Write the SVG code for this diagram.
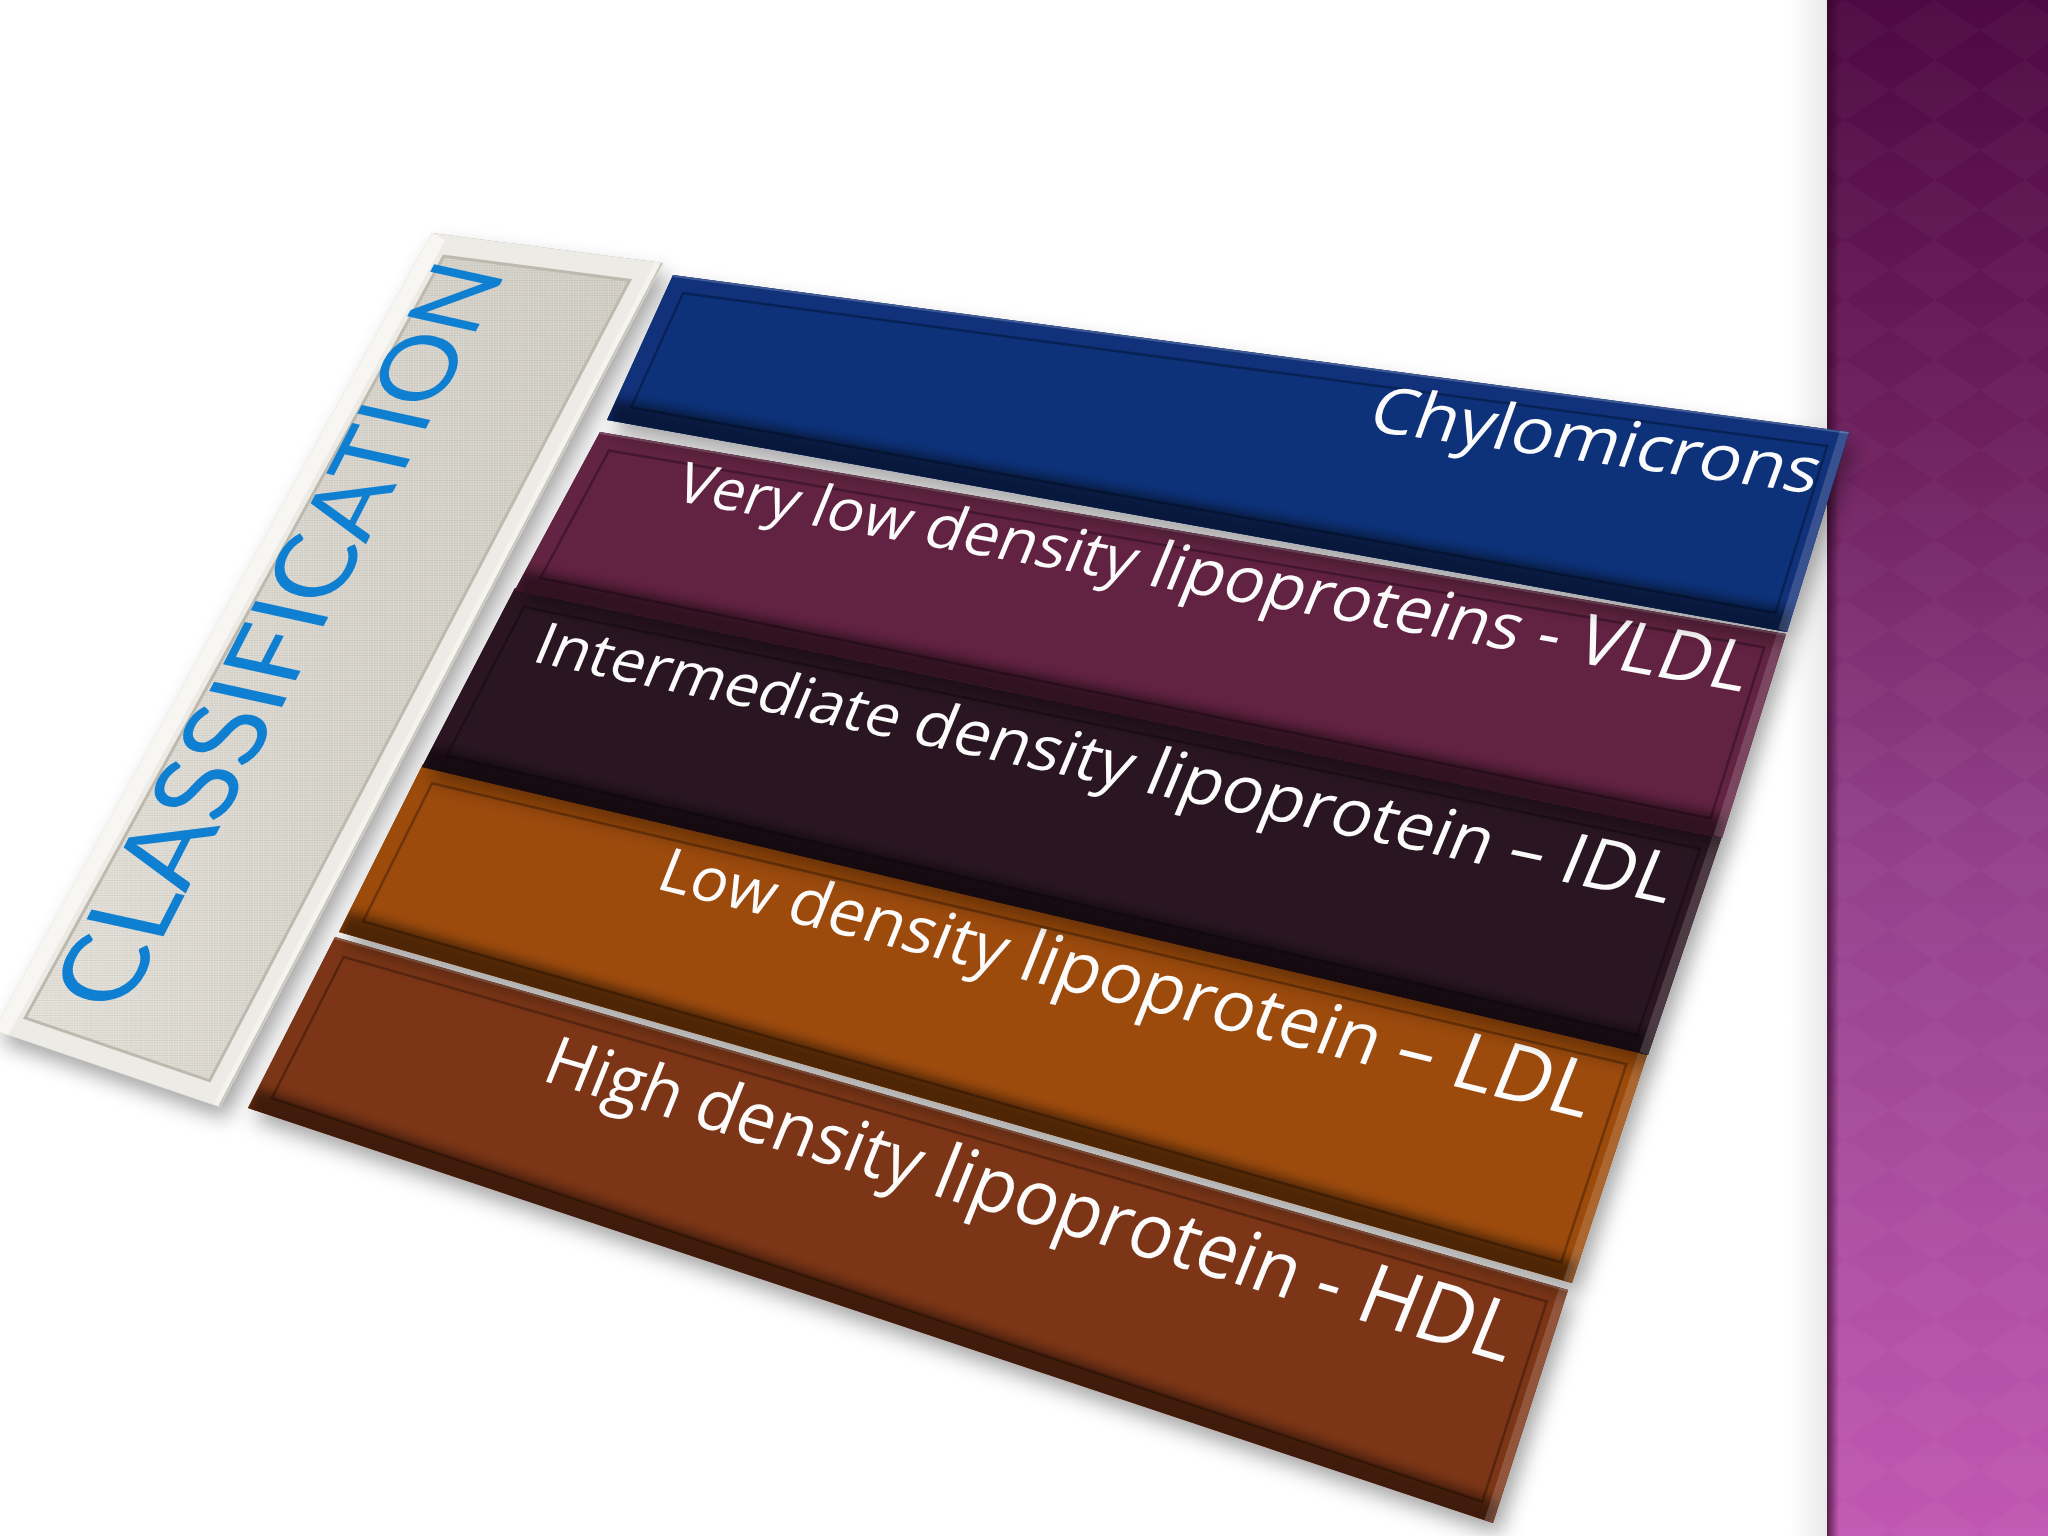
<svg xmlns="http://www.w3.org/2000/svg" xmlns:xlink="http://www.w3.org/1999/xlink" width="2048" height="1536" viewBox="0 0 2048 1536">
<style>
.lbl{fill:#fbfbfb;font-family:"Open Sans","Noto Sans","DejaVu Sans",sans-serif;font-weight:400}
.cls{fill:#0f7fd2;font-family:Lato,"Open Sans",sans-serif;font-weight:400}
.line{fill:none;stroke:#000;stroke-opacity:.3;stroke-width:36;stroke-linejoin:round}
.bot{stroke:#000;stroke-opacity:.5;stroke-width:44;filter:url(#bl)}
.rim{stroke:#fff;stroke-opacity:.16;stroke-width:18}
.top{stroke:#fff;stroke-opacity:.2;stroke-width:4}
</style>
<defs>
<linearGradient id="purple" x1="0" y1="0" x2="0" y2="1">
<stop offset="0" stop-color="#4e0843"/>
<stop offset="0.3" stop-color="#6f215f"/>
<stop offset="0.55" stop-color="#92408a"/>
<stop offset="0.8" stop-color="#ad4ea2"/>
<stop offset="1" stop-color="#c057b1"/>
</linearGradient>
<linearGradient id="edgeL" x1="0" y1="0" x2="1" y2="0">
<stop offset="0" stop-color="#2a0522" stop-opacity=".7"/>
<stop offset="1" stop-color="#2a0522" stop-opacity="0"/>
</linearGradient>
<linearGradient id="whiteEdge" x1="0" y1="0" x2="1" y2="0">
<stop offset="0" stop-color="#ffffff"/>
<stop offset="1" stop-color="#e9e9e9"/>
</linearGradient>
<linearGradient id="grayFace" x1="0" y1="0" x2="1" y2="0">
<stop offset="0" stop-color="#e6e3dc"/>
<stop offset="0.5" stop-color="#d7d4cc"/>
<stop offset="1" stop-color="#d0cdc4"/>
</linearGradient>
<pattern id="linen" width="5" height="5" patternUnits="userSpaceOnUse">
<path d="M0 0.5H5M0 3H5" stroke="#8f8a80" stroke-width="0.7" stroke-opacity="0.25"/>
<path d="M1 0V5M3.5 0V5" stroke="#ffffff" stroke-width="0.7" stroke-opacity="0.25"/>
</pattern>
<pattern id="diam" width="90" height="60" patternUnits="userSpaceOnUse">
<path d="M45 0L90 30L45 60L0 30Z" fill="#ffffff" fill-opacity="0.022"/>
</pattern>
<filter id="sh" x="-20%" y="-20%" width="150%" height="160%">
<feDropShadow dx="6" dy="12" stdDeviation="10" flood-color="#000" flood-opacity="0.35"/>
</filter>
<filter id="bl" x="-20%" y="-50%" width="140%" height="200%">
<feGaussianBlur stdDeviation="6"/>
</filter>
<polygon id="qG" points="432,233 663,263 220,1107 -6,1030"/>
<polygon id="q1" points="673,275 1849,432 1787,632 607,420"/>
<polygon id="q2" points="600,432 1786,634 1722,838 515,590"/>
<polygon id="q3" points="515,588 1722,836 1648,1055 422,767"/>
<polygon id="q4" points="423,764 1648,1052 1572,1283 339,932"/>
<polygon id="q5" points="335,937 1568,1290 1493,1523 248,1108"/>
<clipPath id="cG"><use xlink:href="#qG"/></clipPath>
<clipPath id="c1"><use xlink:href="#q1"/></clipPath>
<clipPath id="c2"><use xlink:href="#q2"/></clipPath>
<clipPath id="c3"><use xlink:href="#q3"/></clipPath>
<clipPath id="c4"><use xlink:href="#q4"/></clipPath>
<clipPath id="c5"><use xlink:href="#q5"/></clipPath>
</defs>

<g id="background">
<rect x="0" y="0" width="2048" height="1536" fill="#ffffff"/>
<rect x="1790" y="0" width="37" height="1536" fill="url(#whiteEdge)"/>
<rect x="1827" y="0" width="221" height="1536" fill="url(#purple)"/>
<rect x="1827" y="0" width="221" height="1536" fill="url(#diam)"/>
<rect x="1827" y="0" width="12" height="1536" fill="url(#edgeL)"/>
</g>

<g id="classification-panel">
<use xlink:href="#qG" fill="url(#grayFace)" filter="url(#sh)"/>
<g clip-path="url(#cG)">
<use xlink:href="#qG" fill="url(#linen)"/>
<use xlink:href="#qG" fill="none" stroke="#bdb9af" stroke-width="46"/>
<use xlink:href="#qG" fill="none" stroke="#ecebe5" stroke-width="40"/>
<line x1="432" y1="233" x2="-6" y2="1030" stroke="#f7f6f2" stroke-width="30"/>
<line x1="663" y1="263" x2="220" y2="1107" stroke="#f4f3ee" stroke-width="14"/>
<line x1="663" y1="263" x2="220" y2="1107" stroke="#c9c5bc" stroke-width="4"/>
</g>
<text class="cls" transform="matrix(0.4587 -0.8886 0.976 0.216 124 1013)" textLength="835" lengthAdjust="spacingAndGlyphs"><tspan font-size="110">CLASS</tspan><tspan font-size="104">IFIC</tspan><tspan font-size="98">ATION</tspan></text>
</g>

<g id="bar-hdl">
<use xlink:href="#q5" fill="#7c3617" filter="url(#sh)"/>
<g clip-path="url(#c5)">
<use xlink:href="#q5" class="line"/>
<use xlink:href="#q5" fill="none" stroke="#7c3617" stroke-width="31"/>
<line x1="248" y1="1108" x2="1493" y2="1523" class="bot"/>
<line x1="1568" y1="1290" x2="1493" y2="1523" class="rim"/>
<line x1="335" y1="937" x2="1568" y2="1290" class="top"/>
</g>
<text class="lbl" transform="matrix(0.9597 0.2811 -0.3717 0.9284 540 1080)" textLength="1005" lengthAdjust="spacingAndGlyphs"><tspan font-size="68">High </tspan><tspan font-size="72">density </tspan><tspan font-size="77">lipoprotein </tspan><tspan font-size="82">- </tspan><tspan font-size="84">HDL</tspan></text>
</g>

<g id="bar-ldl">
<use xlink:href="#q4" fill="#9d4b0a" filter="url(#sh)"/>
<g clip-path="url(#c4)">
<use xlink:href="#q4" class="line"/>
<use xlink:href="#q4" fill="none" stroke="#9d4b0a" stroke-width="31"/>
<line x1="339" y1="932" x2="1572" y2="1283" class="bot"/>
<line x1="1648" y1="1052" x2="1572" y2="1283" class="rim"/>
<line x1="423" y1="764" x2="1648" y2="1052" class="top"/>
</g>
<text class="lbl" transform="matrix(0.9707 0.2406 -0.3708 0.9287 654 888)" textLength="957" lengthAdjust="spacingAndGlyphs"><tspan font-size="62">Low </tspan><tspan font-size="66">density </tspan><tspan font-size="72">lipoprotein </tspan><tspan font-size="77">– </tspan><tspan font-size="80">LDL</tspan></text>
</g>

<g id="bar-idl">
<use xlink:href="#q3" fill="#2b1520" filter="url(#sh)"/>
<g clip-path="url(#c3)">
<use xlink:href="#q3" class="line"/>
<use xlink:href="#q3" fill="none" stroke="#2b1520" stroke-width="31"/>
<line x1="422" y1="767" x2="1648" y2="1055" class="bot"/>
<line x1="1722" y1="836" x2="1648" y2="1055" class="rim"/>
</g>
<text class="lbl" transform="matrix(0.9779 0.2089 -0.3833 0.9236 530 661)" textLength="1161" lengthAdjust="spacingAndGlyphs"><tspan font-size="60">Intermediate </tspan><tspan font-size="64">density </tspan><tspan font-size="67">lipoprotein </tspan><tspan font-size="70">– </tspan><tspan font-size="72">IDL</tspan></text>
</g>

<g id="bar-vldl">
<use xlink:href="#q2" fill="#622442" filter="url(#sh)"/>
<g clip-path="url(#c2)">
<use xlink:href="#q2" class="line"/>
<use xlink:href="#q2" fill="none" stroke="#622442" stroke-width="31"/>
<line x1="515" y1="590" x2="1722" y2="838" class="bot"/>
<line x1="1786" y1="634" x2="1722" y2="838" class="rim"/>
<line x1="600" y1="432" x2="1786" y2="634" class="top"/>
</g>
<text class="lbl" transform="matrix(0.9843 0.1765 -0.3789 0.9254 672 500)" textLength="1086" lengthAdjust="spacingAndGlyphs"><tspan font-size="58">Very </tspan><tspan font-size="60">low </tspan><tspan font-size="62">density </tspan><tspan font-size="66">lipoproteins </tspan><tspan font-size="69">- </tspan><tspan font-size="72">VLDL</tspan></text>
</g>

<g id="bar-chylomicrons">
<use xlink:href="#q1" fill="#11317a" filter="url(#sh)"/>
<g clip-path="url(#c1)">
<use xlink:href="#q1" class="line"/>
<use xlink:href="#q1" fill="none" stroke="#11317a" stroke-width="31"/>
<line x1="607" y1="420" x2="1787" y2="632" class="bot"/>
<line x1="1849" y1="432" x2="1787" y2="632" class="rim"/>
<line x1="673" y1="275" x2="1849" y2="432" class="top"/>
</g>
<text class="lbl" transform="matrix(0.9899 0.1411 -0.3407 0.9401 1365 430)" textLength="452" lengthAdjust="spacingAndGlyphs" font-size="66">Chylomicrons</text>
</g>
</svg>
